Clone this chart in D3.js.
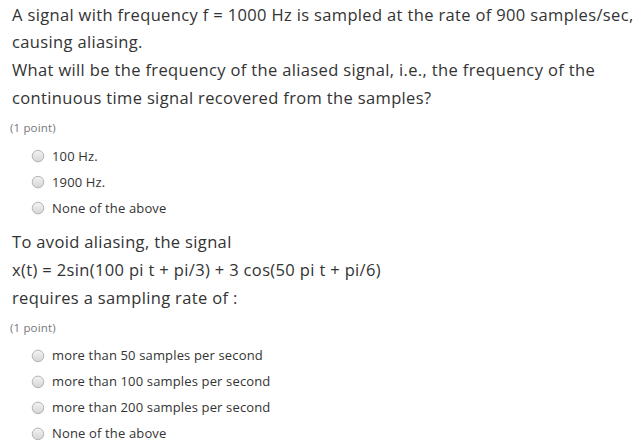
<!DOCTYPE html>
<html lang="en">
<head>
    <meta charset="UTF-8">
    <title>Quiz</title>
    <script src="https://d3js.org/d3.v7.min.js"></script>
    <style>
        body { margin: 0; background: #fff; }
        svg { display: block; }
        .q { font: 16.5px "Open Sans", sans-serif; fill: #333; letter-spacing: 0.35px; }
        .pt { font: 11.5px "Open Sans", sans-serif; fill: #777; letter-spacing: 0.15px; }
        .opt { font: 13px "Open Sans", sans-serif; fill: #333; letter-spacing: 0.15px; }
    </style>
</head>
<body>
<div id="chart"></div>
<script>
    // Текст вопросов и вариантов
    const q1Lines = [
        "A signal with frequency f = 1000 Hz is sampled at the rate of 900 samples/sec,",
        "causing aliasing.",
        "What will be the frequency of the aliased signal, i.e., the frequency of the",
        "continuous time signal recovered from the samples?"
    ];
    const q1Options = ["100 Hz.", "1900 Hz.", "None of the above"];
    const q2Lines = [
        "To avoid aliasing, the signal",
        "x(t) = 2sin(100 pi t + pi/3) + 3 cos(50 pi t + pi/6)",
        "requires a sampling rate of :"
    ];
    const q2Options = [
        "more than 50 samples per second",
        "more than 100 samples per second",
        "more than 200 samples per second",
        "None of the above"
    ];
    const pointLabel = "(1 point)";

    const width = 643, height = 446;
    const svg = d3.select("#chart").append("svg")
        .attr("width", width).attr("height", height);

    const defs = svg.append("defs");
    const grad = defs.append("linearGradient").attr("id", "radio")
        .attr("x1", 0).attr("y1", 0).attr("x2", 0).attr("y2", 1);
    grad.append("stop").attr("offset", "0%").attr("stop-color", "#f4f4f4");
    grad.append("stop").attr("offset", "100%").attr("stop-color", "#d4d4d4");

    function drawQuestion(lines, options, top) {
        const g = svg.append("g").attr("transform", `translate(0,${top})`);
        // строки вопроса
        const lineY = d3.scaleLinear().domain([0, 1]).range([0, 27.7]);
        g.selectAll("text.q").data(lines).enter().append("text")
            .attr("class", "q")
            .attr("x", 12)
            .attr("y", (d, i) => lineY(i))
            .attr("dy", "0.35em")
            .text(d => d);

        const ptY = lineY(lines.length - 1) + 30;
        g.append("text").attr("class", "pt")
            .attr("x", 10).attr("y", ptY).attr("dy", "0.35em")
            .text(pointLabel);

        const optY = d3.scaleLinear().domain([0, 1]).range([ptY + 28, ptY + 54]);
        const opt = g.selectAll("g.o").data(options).enter().append("g")
            .attr("class", "o")
            .attr("transform", (d, i) => `translate(0,${optY(i)})`);
        opt.append("circle")
            .attr("cx", 38).attr("cy", 0).attr("r", 5.8)
            .attr("fill", "url(#radio)")
            .attr("stroke", "#b5b5b5").attr("stroke-width", 1);
        opt.append("text").attr("class", "opt")
            .attr("x", 52).attr("y", 0).attr("dy", "0.35em")
            .text(d => d);
    }

    drawQuestion(q1Lines, q1Options, 15);
    drawQuestion(q2Lines, q2Options, 242.5);
</script>
</body>
</html>
